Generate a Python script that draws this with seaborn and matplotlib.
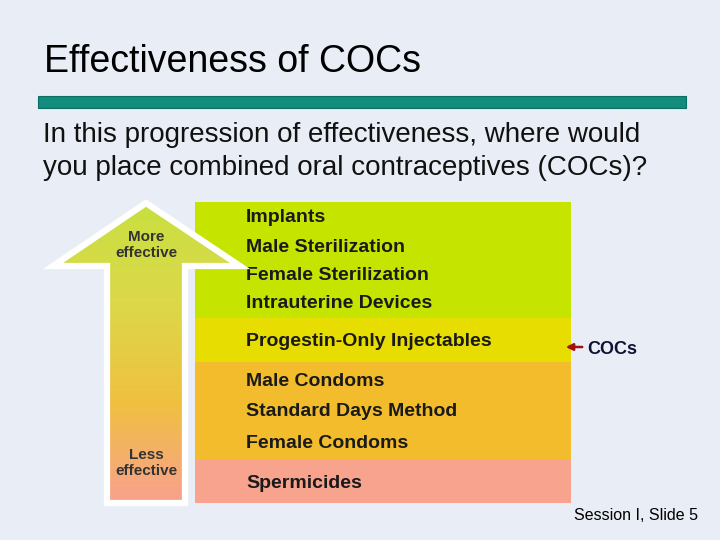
import numpy as np
import matplotlib.pyplot as plt
import seaborn as sns
from matplotlib.path import Path
from matplotlib.patches import PathPatch
from matplotlib.colors import LinearSegmentedColormap

sns.set_theme(style="white")
plt.rcParams['font.family'] = ['Liberation Sans', 'DejaVu Sans']

title = "Effectiveness of COCs"
subtitle = ["In this progression of effectiveness, where would",
            "you place combined oral contraceptives (COCs)?"]

# effectiveness bands (top, bottom in slide pixels) and their methods
band_tops = [202, 318, 362, 460]
band_bottoms = [318, 362, 460, 503]
band_colors = ["#C5E500", "#E7DD00", "#F3BC2C", "#F8A38E"]
band_methods = [["Implants", "Male Sterilization", "Female Sterilization", "Intrauterine Devices"],
                ["Progestin-Only Injectables"],
                ["Male Condoms", "Standard Days Method", "Female Condoms"],
                ["Spermicides"]]
method_y = [[218, 247, 276, 304], [342], [381, 412, 444], [484]]

fig = plt.figure(figsize=(7.2, 5.4), dpi=100)
fig.patch.set_facecolor("#E9EDF5")
ax = fig.add_axes([0, 0, 1, 1])
ax.set_xlim(0, 720)
ax.set_ylim(540, 0)
ax.axis("off")

ax.text(44, 62, title, fontsize=27, color="black", va="center")
ax.bar(362, 12, bottom=96, width=648, color="#128C7C", edgecolor="#0B6E60", linewidth=0.8)
for i, line in enumerate(subtitle):
    ax.text(43, 135 + i * 33, line, fontsize=20, color="#111111", va="center")

# bands
for top, bot, col in zip(band_tops, band_bottoms, band_colors):
    ax.bar(383, bot - top, bottom=top, width=376, color=col, linewidth=0)
for names, ys in zip(band_methods, method_y):
    for name, y in zip(names, ys):
        ax.text(246, y, name, fontsize=14, fontweight="bold", color="#1A1A1A", va="center")

# COCs pointer
ax.annotate("", xy=(563, 347), xytext=(585, 347),
            arrowprops=dict(arrowstyle="-|>", color="#A01010", lw=1.8, mutation_scale=10))
ax.text(587, 349, "COCs", fontsize=13, fontweight="bold", color="#111133", va="center")

# gradient arrow
verts = [(146, 203), (240, 266), (185, 266), (185, 503), (107, 503),
         (107, 266), (53, 266), (146, 203)]
codes = [Path.MOVETO] + [Path.LINETO] * 6 + [Path.CLOSEPOLY]
path = Path(verts, codes)
cmap = LinearSegmentedColormap.from_list("eff", ["#C8E040", "#DCD84A", "#F0C040", "#F8A090"])
grad = np.linspace(0, 1, 256).reshape(-1, 1)
im = ax.imshow(grad, cmap=cmap, extent=(48, 245, 505, 200), aspect="auto", zorder=2)
outline = PathPatch(path, facecolor="none", edgecolor="white", linewidth=4.5, zorder=3)
ax.add_patch(outline)
im.set_clip_path(PathPatch(path, transform=ax.transData))
ax.set_xlim(0, 720)
ax.set_ylim(540, 0)

ax.text(146, 245, "More\neffective", fontsize=11, fontweight="bold", color="#333333",
        ha="center", va="center", linespacing=1.25, zorder=4)
ax.text(146, 463, "Less\neffective", fontsize=11, fontweight="bold", color="#333333",
        ha="center", va="center", linespacing=1.25, zorder=4)

ax.text(698, 516, "Session I, Slide 5", fontsize=11.5, color="black", ha="right", va="center")

fig.savefig("out.png", dpi=100, facecolor=fig.get_facecolor())
